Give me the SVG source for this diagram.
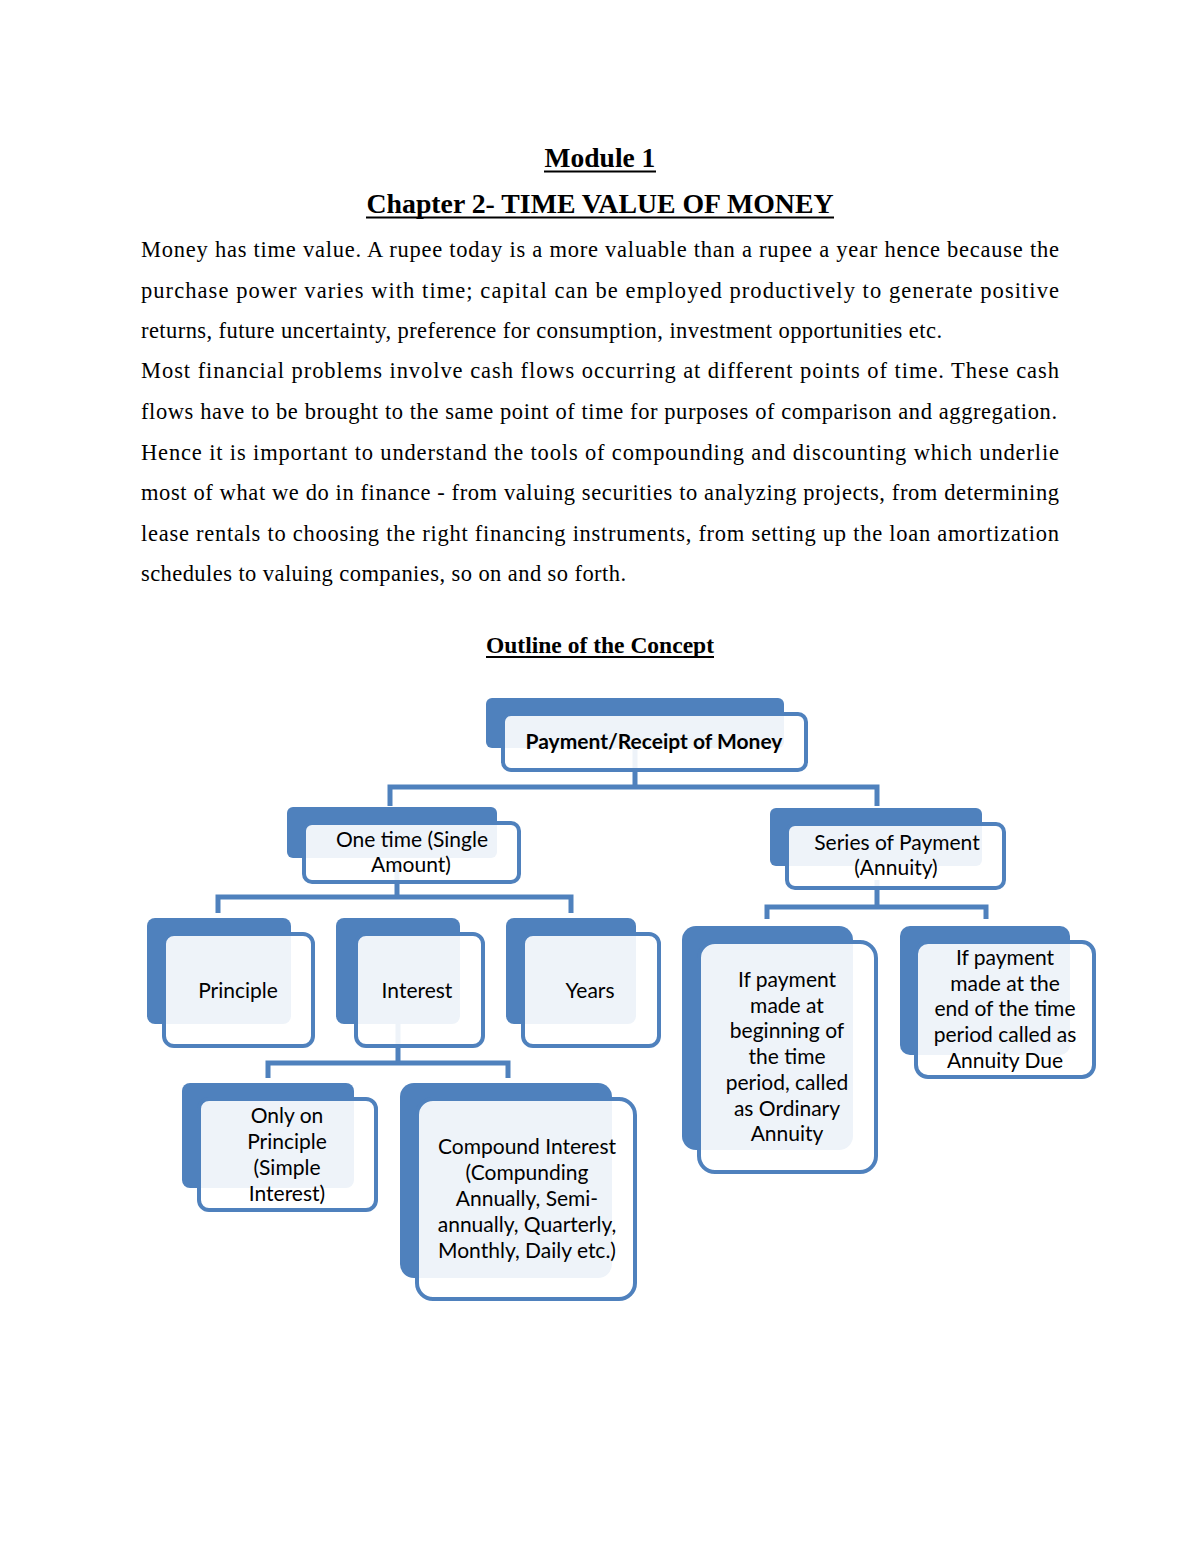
<svg xmlns="http://www.w3.org/2000/svg" width="1200" height="1553" viewBox="0 0 1200 1553">
<style>
.bg{fill:#ffffff}
.body{font-family:"Liberation Serif","Times New Roman",serif;font-size:22.5px;fill:#000}
.head{font-family:"Liberation Serif","Times New Roman",serif;font-size:27.5px;font-weight:bold;fill:#000}
.sub{font-family:"Liberation Serif","Times New Roman",serif;font-size:23.5px;font-weight:bold;fill:#000}
.ul{stroke:#000;stroke-width:2.2}
.back{fill:#4f81bd}
.front{fill:#ffffff;fill-opacity:0.9;stroke:#4f81bd;stroke-width:4}
.lbl{font-family:Lato,"Noto Sans","Liberation Sans",sans-serif;font-size:21px;fill:#000;text-anchor:middle}
.conn{fill:none;stroke:#4f81bd;stroke-width:5;stroke-linejoin:miter}
</style>
<rect class="bg" x="0" y="0" width="1200" height="1553"/>

<g id="header">
<text class="head" x="600" y="167" text-anchor="middle">Module 1</text>
<line class="ul" x1="544" y1="171.5" x2="656" y2="171.5"/>
<text class="head" x="600" y="213" text-anchor="middle" textLength="467" lengthAdjust="spacingAndGlyphs">Chapter 2- TIME VALUE OF MONEY</text>
<line class="ul" x1="366" y1="217.5" x2="834" y2="217.5"/>
</g>

<g id="paragraphs">
<text class="body" x="141" y="257" textLength="918" lengthAdjust="spacing">Money has time value. A rupee today is a more valuable than a rupee a year hence because the</text>
<text class="body" x="141" y="298" textLength="918" lengthAdjust="spacing">purchase power varies with time; capital can be employed productively to generate positive</text>
<text class="body" x="141" y="338" textLength="801" lengthAdjust="spacing">returns, future uncertainty, preference for consumption, investment opportunities etc.</text>
<text class="body" x="141" y="378" textLength="918" lengthAdjust="spacing">Most financial problems involve cash flows occurring at different points of time. These cash</text>
<text class="body" x="141" y="419" textLength="916" lengthAdjust="spacing">flows have to be brought to the same point of time for purposes of comparison and aggregation.</text>
<text class="body" x="141" y="460" textLength="918" lengthAdjust="spacing">Hence it is important to understand the tools of compounding and discounting which underlie</text>
<text class="body" x="141" y="500" textLength="918" lengthAdjust="spacing">most of what we do in finance - from valuing securities to analyzing projects, from determining</text>
<text class="body" x="141" y="541" textLength="918" lengthAdjust="spacing">lease rentals to choosing the right financing instruments, from setting up the loan amortization</text>
<text class="body" x="141" y="581" textLength="485" lengthAdjust="spacing">schedules to valuing companies, so on and so forth.</text>
</g>

<g id="outline-title">
<text class="sub" x="600" y="653" text-anchor="middle" textLength="228" lengthAdjust="spacingAndGlyphs">Outline of the Concept</text>
<line class="ul" x1="486" y1="657" x2="714" y2="657"/>
</g>

<g id="connectors">
<path class="conn" d="M635 745 V787 M390 806 V787 H877 V806"/>
<path class="conn" d="M397 860 V897 M218 913 V897 H571 V913"/>
<path class="conn" d="M398 1020 V1063 M268 1078 V1063 H508 V1078"/>
<path class="conn" d="M877 880 V907 M767 919 V907 H986 V919"/>
</g>

<g id="node-payment">
<rect class="back" x="486" y="698" width="298" height="50" rx="6"/>
<rect class="front" x="503" y="714" width="303" height="56" rx="8"/>
<text class="lbl" x="654" y="749" font-weight="bold" font-size="21.5">Payment/Receipt of Money</text>
</g>

<g id="node-onetime">
<rect class="back" x="287" y="807" width="210" height="51" rx="6"/>
<rect class="front" x="304" y="823" width="215" height="59" rx="8"/>
<text class="lbl" x="412" y="847">One time (Single</text>
<text class="lbl" x="411" y="872">Amount)</text>
</g>

<g id="node-series">
<rect class="back" x="770" y="808" width="212" height="58" rx="6"/>
<rect class="front" x="787" y="824" width="217" height="64" rx="8"/>
<text class="lbl" x="897" y="850">Series of Payment</text>
<text class="lbl" x="896" y="875">(Annuity)</text>
</g>

<g id="node-principle">
<rect class="back" x="147" y="918" width="144" height="106" rx="8"/>
<rect class="front" x="164" y="934" width="149" height="112" rx="10"/>
<text class="lbl" x="238" y="998">Principle</text>
</g>

<g id="node-interest">
<rect class="back" x="336" y="918" width="124" height="106" rx="8"/>
<rect class="front" x="356" y="934" width="127" height="112" rx="10"/>
<text class="lbl" x="417" y="998">Interest</text>
</g>

<g id="node-years">
<rect class="back" x="506" y="918" width="130" height="106" rx="8"/>
<rect class="front" x="523" y="934" width="136" height="112" rx="10"/>
<text class="lbl" x="590" y="998">Years</text>
</g>

<g id="node-simple">
<rect class="back" x="182" y="1083" width="172" height="105" rx="8"/>
<rect class="front" x="199" y="1099" width="177" height="111" rx="10"/>
<text class="lbl" x="287" y="1123">Only on</text>
<text class="lbl" x="287" y="1149">Principle</text>
<text class="lbl" x="287" y="1175">(Simple</text>
<text class="lbl" x="287" y="1201">Interest)</text>
</g>

<g id="node-compound">
<rect class="back" x="400" y="1083" width="212" height="195" rx="14"/>
<rect class="front" x="417" y="1099" width="218" height="200" rx="16"/>
<text class="lbl" x="527" y="1154">Compound Interest</text>
<text class="lbl" x="527" y="1180">(Compunding</text>
<text class="lbl" x="527" y="1206">Annually, Semi-</text>
<text class="lbl" x="527" y="1232">annually, Quarterly,</text>
<text class="lbl" x="527" y="1258">Monthly, Daily etc.)</text>
</g>

<g id="node-ordinary">
<rect class="back" x="682" y="926" width="171" height="224" rx="14"/>
<rect class="front" x="699" y="942" width="177" height="230" rx="16"/>
<text class="lbl" x="787" y="987">If payment</text>
<text class="lbl" x="787" y="1013">made at</text>
<text class="lbl" x="787" y="1038">beginning of</text>
<text class="lbl" x="787" y="1064">the time</text>
<text class="lbl" x="787" y="1090">period, called</text>
<text class="lbl" x="787" y="1116">as Ordinary</text>
<text class="lbl" x="787" y="1141">Annuity</text>
</g>

<g id="node-due">
<rect class="back" x="900" y="926" width="170" height="129" rx="10"/>
<rect class="front" x="916" y="942" width="178" height="135" rx="12"/>
<text class="lbl" x="1005" y="965">If payment</text>
<text class="lbl" x="1005" y="991">made at the</text>
<text class="lbl" x="1005" y="1016">end of the time</text>
<text class="lbl" x="1005" y="1042">period called as</text>
<text class="lbl" x="1005" y="1068">Annuity Due</text>
</g>
</svg>
